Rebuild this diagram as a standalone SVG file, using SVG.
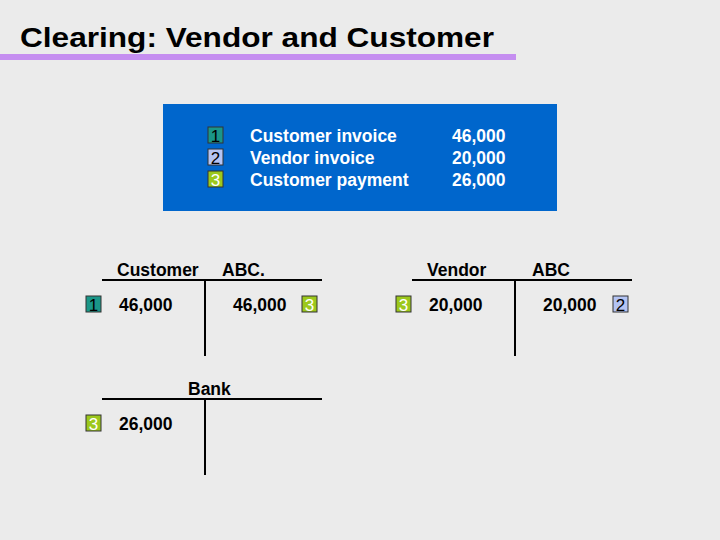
<svg xmlns="http://www.w3.org/2000/svg" width="720" height="540" viewBox="0 0 720 540">
<style>
text{font-family:"Liberation Sans",Arial,sans-serif;font-weight:bold}
.t{font-size:17.5px;fill:#000}
.w{font-size:17.5px;fill:#fff}
.ln{stroke:#000;stroke-width:2}
.b1{fill:#1a9688;stroke:#333;stroke-width:1}
.b2{fill:#b4c4f4;stroke:#333;stroke-width:1}
.b3{fill:#9cc81c;stroke:#333;stroke-width:1}
.bn{font-size:17px;text-anchor:middle;font-weight:normal}
</style>
<rect width="720" height="540" fill="#ebebeb"/>
<text x="20" y="47" style="font-size:28px" textLength="474" lengthAdjust="spacingAndGlyphs" fill="#000">Clearing: Vendor and Customer</text>
<rect x="0" y="54" width="516" height="6" fill="#c58ef0"/>
<g id="legend">
<rect x="163" y="104" width="394" height="107" fill="#0066cc"/>
<rect x="208" y="127" width="15" height="16" class="b1"/><text x="215.5" y="142" class="bn" fill="#000">1</text>
<rect x="208" y="149" width="15" height="16" class="b2"/><text x="215.5" y="164" class="bn" fill="#000">2</text>
<rect x="208" y="171" width="15" height="16" class="b3"/><text x="215.5" y="186" class="bn" fill="#fff">3</text>
<text x="250" y="142" class="w">Customer invoice</text><text x="452" y="142" class="w">46,000</text>
<text x="250" y="164" class="w">Vendor invoice</text><text x="452" y="164" class="w">20,000</text>
<text x="250" y="186" class="w">Customer payment</text><text x="452" y="186" class="w">26,000</text>
</g>
<g id="connectors">
<line x1="102" y1="280" x2="322" y2="280" class="ln"/><line x1="205" y1="280" x2="205" y2="356" class="ln"/>
<line x1="412" y1="280" x2="632" y2="280" class="ln"/><line x1="515" y1="280" x2="515" y2="356" class="ln"/>
<line x1="102" y1="399" x2="322" y2="399" class="ln"/><line x1="205" y1="399" x2="205" y2="475" class="ln"/>
</g>
<g id="customer">
<text x="117" y="276" class="t">Customer</text><text x="222" y="276" class="t">ABC.</text>
<rect x="86" y="296" width="15" height="16" class="b1"/><text x="93.5" y="311" class="bn" fill="#000">1</text>
<text x="119" y="311" class="t">46,000</text><text x="233" y="311" class="t">46,000</text>
<rect x="302" y="296" width="15" height="16" class="b3"/><text x="309.5" y="311" class="bn" fill="#fff">3</text>
</g>
<g id="vendor">
<text x="427" y="276" class="t">Vendor</text><text x="532" y="276" class="t">ABC</text>
<rect x="396" y="296" width="15" height="16" class="b3"/><text x="403.5" y="311" class="bn" fill="#fff">3</text>
<text x="429" y="311" class="t">20,000</text><text x="543" y="311" class="t">20,000</text>
<rect x="613" y="296" width="15" height="16" class="b2"/><text x="620.5" y="311" class="bn" fill="#000">2</text>
</g>
<g id="bank">
<text x="188" y="395" class="t">Bank</text>
<rect x="86" y="415" width="15" height="16" class="b3"/><text x="93.5" y="430" class="bn" fill="#fff">3</text>
<text x="119" y="430" class="t">26,000</text>
</g>
</svg>
